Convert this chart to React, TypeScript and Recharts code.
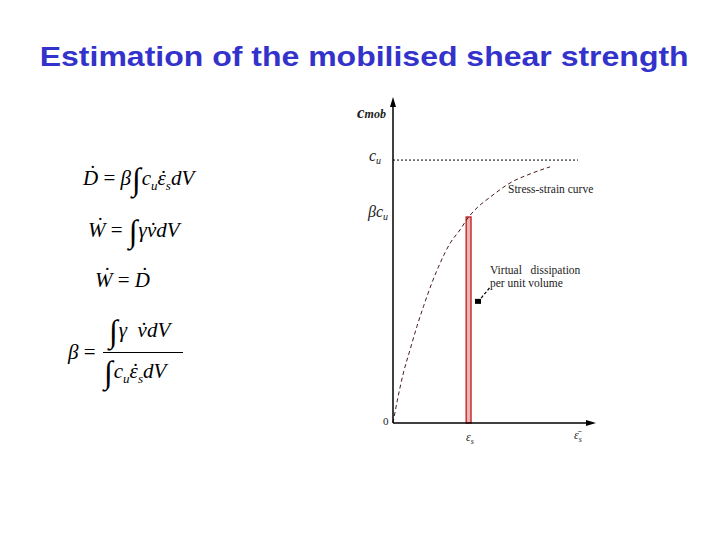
import React from 'react';
import { ComposedChart, Line, XAxis, YAxis, ReferenceLine, ReferenceArea, ReferenceDot } from 'recharts';

// stress-strain curve (strain %, stress % of axis)
const strain = [0, 2.2, 5.2, 8.5, 11.9, 15.2, 19.4, 23.5, 28.5, 33.5, 37.5, 39.5, 50, 58.5, 68.5, 78.5];
const stress = [0, 7.1, 15.5, 22.6, 29.8, 36.0, 43.3, 49.4, 55.6, 59.8, 63.5, 65.0, 70.6, 74.3, 77.1, 79.3];

const cuLevel = 81.4;
const cuLineEnd = 92.5;
const betaCu = 63.8;
const strainMark = [36.6, 39.0];
const leaderX = [42.5, 48.5];
const leaderY = [37.5, 42];

const curve = strain.map((x, i) => ({ x, y: stress[i] }));
const leader = leaderX.map((x, i) => ({ x, ly: leaderY[i] }));

const serif = '"Liberation Serif", "Times New Roman", serif';

const eq: React.CSSProperties = {
  position: 'absolute',
  fontFamily: serif,
  fontSize: 21,
  color: '#000',
  whiteSpace: 'nowrap',
  lineHeight: '28px',
};
const int: React.CSSProperties = { fontSize: 32, fontStyle: 'normal', verticalAlign: '-5px', margin: '0 1px' };
const sub: React.CSSProperties = { fontSize: 13, fontStyle: 'italic', verticalAlign: '-5px' };
const lbl: React.CSSProperties = {
  position: 'absolute',
  fontFamily: serif,
  fontStyle: 'italic',
  fontSize: 15,
  color: '#222',
  whiteSpace: 'nowrap',
};
const note: React.CSSProperties = {
  position: 'absolute',
  fontFamily: serif,
  fontSize: 11.5,
  color: '#222',
  whiteSpace: 'nowrap',
  lineHeight: '13px',
};

// letter with a dot above it (time derivative)
const Dotted = ({ ch, dx = 0.3, cap = false }: { ch: string; dx?: number; cap?: boolean }) => (
  <span style={{ position: 'relative', fontStyle: 'italic', display: 'inline-block' }}>
    {ch}
    <span
      style={{ position: 'absolute', left: `${dx}em`, top: cap ? '-0.22em' : '0em', fontStyle: 'normal', lineHeight: '28px' }}
    >
      ˙
    </span>
  </span>
);

const arrowRight = (p: any) => (
  <polygon points={`${p.cx + 3},${p.cy} ${p.cx - 7},${p.cy - 3} ${p.cx - 7},${p.cy + 3}`} fill="#000" />
);
const arrowUp = (p: any) => (
  <polygon points={`${p.cx},${p.cy - 3} ${p.cx - 3},${p.cy + 7} ${p.cx + 3},${p.cy + 7}`} fill="#000" />
);
const square = (p: any) => <rect x={p.cx - 3} y={p.cy - 3} width={6} height={5} fill="#000" />;

const App: React.FC = () => {
  return (
    <div style={{ position: 'absolute', left: 0, top: 0, width: 720, height: 540, background: '#fff' }}>
      <div
        style={{
          position: 'absolute',
          left: 0,
          top: 42,
          width: 728,
          textAlign: 'center',
          fontFamily: '"Liberation Sans", Arial, sans-serif',
          fontWeight: 'bold',
          fontSize: 27,
          color: '#3333CC',
          transform: 'scaleX(1.185)',
          transformOrigin: '363px 0',
          whiteSpace: 'nowrap',
        }}
      >
        Estimation of the mobilised shear strength
      </div>

      <div style={{ ...eq, left: 83, top: 164 }}>
        <Dotted ch="D" dx={0.3} cap /> = <i>β</i>
        <span style={int}>∫</span>
        <i>c</i>
        <span style={sub}>u</span>
        <Dotted ch="ε" dx={0.12} />
        <span style={sub}>s</span>
        <i>dV</i>
      </div>
      <div style={{ ...eq, left: 88, top: 216 }}>
        <Dotted ch="W" dx={0.42} cap /> = <span style={int}>∫</span>
        <i>γ</i>
        <Dotted ch="v" dx={0.14} />
        <i>dV</i>
      </div>
      <div style={{ ...eq, left: 95, top: 266 }}>
        <Dotted ch="W" dx={0.42} cap /> = <Dotted ch="D" dx={0.3} cap />
      </div>
      <div style={{ ...eq, left: 68, top: 338 }}>
        <i>β</i> =
      </div>
      <div style={{ ...eq, left: 108, top: 316 }}>
        <span style={int}>∫</span>
        <i>γ</i>&nbsp; <Dotted ch="v" dx={0.14} />
        <i>dV</i>
      </div>
      <div style={{ position: 'absolute', left: 103, top: 352, width: 80, height: 1, background: '#000' }} />
      <div style={{ ...eq, left: 103, top: 357 }}>
        <span style={int}>∫</span>
        <i>c</i>
        <span style={sub}>u</span>
        <Dotted ch="ε" dx={0.12} />
        <span style={sub}>s</span>
        <i>dV</i>
      </div>

      <ComposedChart
        width={720}
        height={540}
        data={curve}
        margin={{ top: 100, right: 127, bottom: 117, left: 393 }}
      >
        <XAxis dataKey="x" type="number" domain={[0, 100]} hide />
        <YAxis type="number" domain={[0, 100]} hide />
        <ReferenceArea
          x1={strainMark[0]}
          x2={strainMark[1]}
          y1={0}
          y2={betaCu}
          fill="#e9b4b4"
          fillOpacity={1}
          stroke="#c83030"
          strokeWidth={1.5}
        />
        <ReferenceLine
          segment={[
            { x: 0, y: cuLevel },
            { x: cuLineEnd, y: cuLevel },
          ]}
          stroke="#000"
          strokeDasharray="2 2"
          strokeWidth={1}
        />
        <Line
          data={leader}
          dataKey="ly"
          type="linear"
          stroke="#000"
          strokeWidth={1.2}
          strokeDasharray="3 2"
          dot={false}
          isAnimationActive={false}
        />
        <ReferenceDot x={leaderX[0]} y={leaderY[0]} shape={square} />
        <Line
          dataKey="y"
          type="monotone"
          stroke="#4a1a1a"
          strokeWidth={1}
          strokeDasharray="4 3"
          dot={false}
          isAnimationActive={false}
        />
        <ReferenceLine
          segment={[
            { x: 0, y: 0 },
            { x: 100, y: 0 },
          ]}
          stroke="#000"
          strokeWidth={1.5}
          ifOverflow="visible"
        />
        <ReferenceLine
          segment={[
            { x: 0, y: 0 },
            { x: 0, y: 100 },
          ]}
          stroke="#000"
          strokeWidth={1.5}
          ifOverflow="visible"
        />
        <ReferenceDot x={100} y={0} shape={arrowRight} ifOverflow="visible" />
        <ReferenceDot x={0} y={100} shape={arrowUp} ifOverflow="visible" />
      </ComposedChart>

      <div style={{ ...lbl, left: 357, top: 103, fontSize: 17, fontWeight: 'bold' }}>
        c<span style={{ fontSize: 12 }}>mob</span>
      </div>
      <div style={{ ...lbl, left: 369, top: 147, fontSize: 16 }}>
        c<span style={{ fontSize: 10, verticalAlign: '-3px' }}>u</span>
      </div>
      <div style={{ ...lbl, left: 368, top: 203, fontSize: 16 }}>
        βc<span style={{ fontSize: 10, verticalAlign: '-3px' }}>u</span>
      </div>
      <div style={{ ...lbl, left: 383, top: 415, fontStyle: 'normal', fontSize: 11 }}>0</div>
      <div style={{ ...lbl, left: 466, top: 430, fontSize: 12 }}>
        ε<span style={{ fontSize: 8, verticalAlign: '-3px' }}>s</span>
      </div>
      <div style={{ ...lbl, left: 574, top: 428, fontSize: 12 }}>
        ε̄<span style={{ fontSize: 8, verticalAlign: '-3px' }}>s</span>
      </div>
      <div style={{ ...note, left: 508, top: 183 }}>Stress-strain curve</div>
      <div style={{ ...note, left: 490, top: 264 }}>
        Virtual&nbsp;&nbsp;&nbsp;dissipation
        <br />
        per unit volume
      </div>
    </div>
  );
};

export default App;
